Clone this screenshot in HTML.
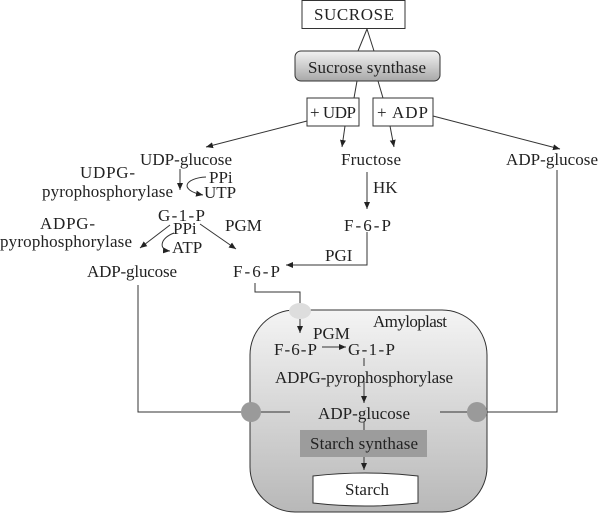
<!DOCTYPE html>
<html><head><style>
html,body{margin:0;padding:0;background:#fff;}
svg{display:block;}
text{font-family:"Liberation Serif",serif;font-size:17px;fill:#222;}
</style></head><body>
<svg width="604" height="516" viewBox="0 0 604 516" xmlns="http://www.w3.org/2000/svg">
<defs>
<linearGradient id="g1" x1="0" y1="0" x2="0" y2="1">
<stop offset="0" stop-color="#f2f2f2"/><stop offset="1" stop-color="#a8a8a8"/></linearGradient>
<linearGradient id="g2" x1="0" y1="0" x2="0" y2="1">
<stop offset="0" stop-color="#f4f4f4"/><stop offset="1" stop-color="#b8b8b8"/></linearGradient>
<marker id="a" markerWidth="8" markerHeight="8" refX="7" refY="4" orient="auto" markerUnits="userSpaceOnUse">
<path d="M0,1 L7,4 L0,7 z" fill="#222"/></marker>
</defs>
<g stroke="#333" stroke-width="1" fill="none">
<rect x="250" y="310" width="237" height="202" rx="45" fill="url(#g2)" stroke="#333"/>
<rect x="302" y="0.5" width="103" height="28" fill="#fff"/>
<line x1="367" y1="29" x2="358" y2="51"/><line x1="367" y1="29" x2="374" y2="51"/>
<rect x="295" y="51" width="145" height="30" rx="6" fill="url(#g1)"/>
<line x1="357" y1="81" x2="354" y2="98"/><line x1="378" y1="81" x2="383" y2="98"/>
<rect x="307" y="98" width="52" height="28" fill="#fff"/>
<rect x="373" y="98" width="60" height="28" fill="#fff"/>
<line x1="307" y1="121" x2="206" y2="147" marker-end="url(#a)"/>
<line x1="345" y1="126" x2="342" y2="147" marker-end="url(#a)"/>
<line x1="390" y1="126" x2="394" y2="147" marker-end="url(#a)"/>
<line x1="433" y1="116" x2="560" y2="149" marker-end="url(#a)"/>
<line x1="180" y1="169" x2="180" y2="190" marker-end="url(#a)"/>
<path d="M206,177 C185,178 178,190 203,195" marker-end="url(#a)"/>
<path d="M170,225 L140,248" marker-end="url(#a)"/>
<path d="M174,233 C160,238 158,250 170,251" marker-end="url(#a)"/>
<line x1="200" y1="224" x2="236" y2="249" marker-end="url(#a)"/>
<line x1="367" y1="172" x2="367" y2="209" marker-end="url(#a)"/>
<path d="M367,232 L367,265 L286,265" marker-end="url(#a)"/>
<path d="M138,285 L138,412 L290,412"/>
<path d="M557,170 L557,412 L440,412"/>
<path d="M255,283 L255,292 L300,292 L300,333" marker-end="url(#a)"/>
<line x1="322" y1="347" x2="346" y2="347" marker-end="url(#a)"/>
<line x1="364" y1="358" x2="364" y2="366"/>
<line x1="364" y1="381" x2="364" y2="403" marker-end="url(#a)"/>
<line x1="364" y1="422" x2="364" y2="430"/>
<line x1="364" y1="457" x2="364" y2="470" marker-end="url(#a)"/>
</g>
<ellipse cx="300" cy="311" rx="11" ry="8" fill="#ddd"/>
<circle cx="251" cy="412" r="10" fill="#9a9a9a"/>
<circle cx="477" cy="412" r="10" fill="#9a9a9a"/>
<rect x="300" y="430" width="127" height="27" fill="#9c9c9c"/>
<path d="M313,476 Q365,470 418,476 L418,503 Q365,509 313,503 Z" fill="#fff" stroke="#333"/>
<text x="314" y="20" textLength="80">SUCROSE</text>
<text x="308" y="73" textLength="118">Sucrose synthase</text>
<text x="310" y="118" textLength="46">+ UDP</text>
<text x="377" y="118" textLength="51">+ ADP</text>
<text x="140" y="165" textLength="92">UDP-glucose</text>
<text x="341" y="165" textLength="60">Fructose</text>
<text x="506" y="165" textLength="92">ADP-glucose</text>
<text x="80" y="178" textLength="55">UDPG-</text>
<text x="42" y="197" textLength="131">pyrophosphorylase</text>
<text x="209" y="183">PPi</text>
<text x="204" y="198">UTP</text>
<text x="373" y="193">HK</text>
<text x="158" y="221" textLength="47">G-1-P</text>
<text x="40" y="229" textLength="55">ADPG-</text>
<text x="0" y="247" textLength="132">pyrophosphorylase</text>
<text x="173" y="234">PPi</text>
<text x="172" y="253">ATP</text>
<text x="225" y="231">PGM</text>
<text x="344" y="231" textLength="47">F-6-P</text>
<text x="325" y="261">PGI</text>
<text x="87" y="277" textLength="90">ADP-glucose</text>
<text x="233" y="277" textLength="47">F-6-P</text>
<text x="373" y="327" textLength="74">Amyloplast</text>
<text x="313" y="339">PGM</text>
<text x="274" y="355" textLength="43">F-6-P</text>
<text x="348" y="355" textLength="47">G-1-P</text>
<text x="275" y="383" textLength="178">ADPG-pyrophosphorylase</text>
<text x="318" y="419" textLength="92">ADP-glucose</text>
<text x="310" y="449" textLength="108">Starch synthase</text>
<text x="345" y="495" textLength="44">Starch</text>
</svg>
</body></html>
